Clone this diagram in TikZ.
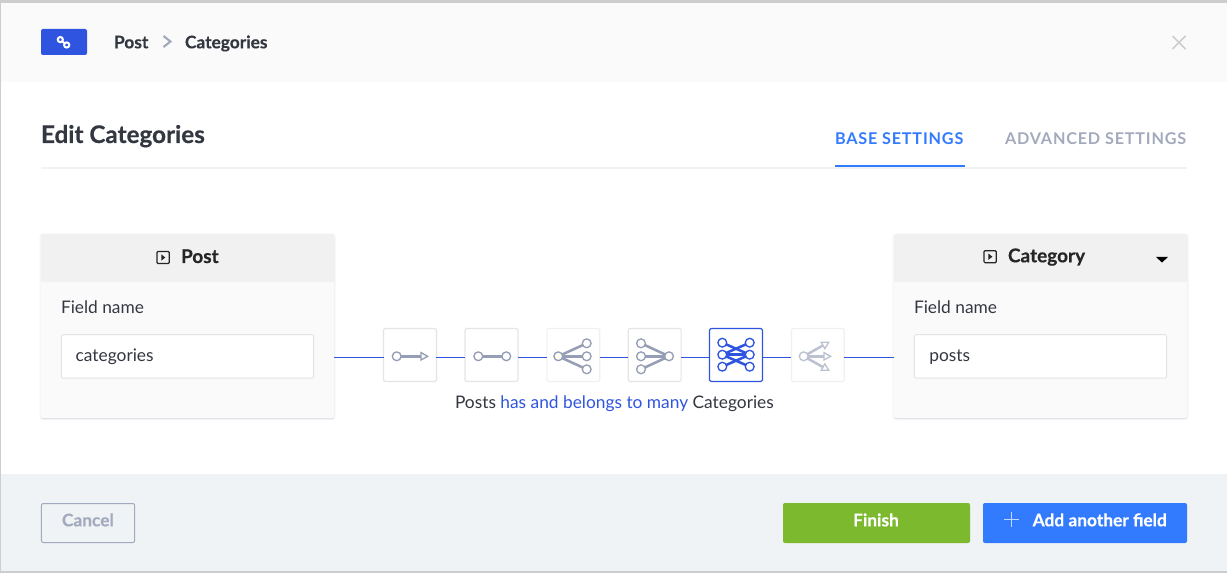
\documentclass[tikz,border=0pt]{standalone}
\usepackage{fontspec}
\setmainfont{Lato}
\usepackage{tikz}
\usetikzlibrary{positioning,arrows.meta}
\definecolor{inkdark}{HTML}{333740}
\definecolor{inkgrey}{HTML}{A3AABD}
\definecolor{linkblue}{HTML}{2F55E0}
\definecolor{tabblue}{HTML}{337BFE}
\definecolor{okgreen}{HTML}{7CB92F}
\definecolor{footgrey}{HTML}{EFF3F6}
\definecolor{headgrey}{HTML}{FAFAFA}
\definecolor{cardhead}{HTML}{F1F1F2}
\definecolor{cardbody}{HTML}{FAFAFB}
\definecolor{framegrey}{HTML}{CDCDCD}
\definecolor{relline}{HTML}{959EB4}
\definecolor{relpale}{HTML}{BCC2D0}
\definecolor{cardglow}{HTML}{F5F6F8}
\definecolor{cardedge}{HTML}{DDE0E8}
\begin{document}
\begin{tikzpicture}[x=0.75pt,y=-0.75pt,
    pane/.style 2 args = {anchor=north west, inner sep=0, outer sep=0, minimum width=#1*0.75pt, minimum height=#2*0.75pt},
    caption/.style = {anchor=base west, inner sep=0, outer sep=0, text=inkdark, font=\fontsize{13}{15}\selectfont},
    strong/.style = {caption, font=\fontsize{13}{15}\selectfont\bfseries\addfontfeature{FakeBold=0.35}},
    tabtext/.style = {caption, font=\fontsize{12.15}{14}\selectfont\bfseries\addfontfeature{LetterSpace=5}},
    relbox/.style = {draw=#1, fill=white, rounded corners=1.5pt, line width=0.9pt, inner sep=0, outer sep=0, minimum size=39.7pt},
    reldot/.style = {draw=#1, fill=none, circle, line width=1pt, inner sep=0, outer sep=0, minimum size=6.6pt},
    reldot/.default = relline,
    relbar/.style = {draw=#1, line width=1.9pt},
    relbar/.default = relline,
    relarrow/.style = {draw=#1, line width=1.9pt, -{Triangle[open,length=6.5pt,width=7pt,line width=1pt]}},
    relarrow/.default = relline]
    % page frame
    \useasboundingbox (0,0) rectangle (1227,573);
    \fill[white] (0,0) rectangle (1227,573);
    \fill[framegrey] (0,0) rectangle (1227,3);
    \fill[framegrey] (0,0) rectangle (1,573);
    \fill[framegrey] (0,571) rectangle (1227,573);
    \node[pane={1226}{79}, fill=headgrey] (top) at (1,3) {};
    \node[pane={1226}{97}, fill=footgrey] (foot) at (1,474) {};
    % header bar
    \node[pane={46}{26}, fill=linkblue, rounded corners=1.5pt] (chip) at (41,29) {};
    \draw[white, line width=1.5pt] (60.3,39.6) circle (2.6) (66.7,45) circle (2.6);
    \draw[white, line width=1.5pt] (62.5,41.5) -- (64.5,43.2);
    \node[strong] (crumbpost) at (114,48.3) {Post};
    \node[strong] (crumbcat) at (185,48.3) {Categories};
    \draw[inkgrey, line width=1.6pt] (163.5,36) -- (170.5,41.5) -- (163.5,47);
    \draw[framegrey, line width=1.1pt] (1172.5,36) -- (1185.5,49) (1185.5,36) -- (1172.5,49);
    % title and tabs
    \node[caption, font=\fontsize{18.2}{22}\selectfont\bfseries\addfontfeature{FakeBold=0.4}] (title) at (41,143) {Edit Categories};
    \node[tabtext, text=tabblue] (tabbase) at (835,145) {BASE SETTINGS};
    \node[tabtext, text=inkgrey] (tabadv) at (1005,145) {ADVANCED SETTINGS};
    \fill[footgrey] (41,167) rectangle (1187,169);
    \fill[tabblue] (835,165) rectangle (965,167);
    % left card
    \fill[cardglow, rounded corners=2pt] (39.5,234) rectangle (335.5,420);
    \fill[cardedge, rounded corners=2pt] (41,236) rectangle (334,419);
    \node[pane={293}{184}, fill=cardbody, rounded corners=1.5pt] (postcard) at (41,234) {};
    \fill[cardhead] (41,282) [rounded corners=1.5pt] -- (41,234) -- (334,234) [sharp corners] -- (334,282) -- cycle;
    \draw[black!85, line width=0.9pt, rounded corners=0.8pt] (157,251.5) rectangle (169.3,263.5);
    \fill[black!85] (161.3,254.3) -- (165.3,257.5) -- (161.3,260.7) -- cycle;
    \node[caption, text=black!85, font=\fontsize{14.25}{17}\selectfont\bfseries\addfontfeature{FakeBold=0.35}] (posttitle) at (181,263) {Post};
    \node[caption] (postfield) at (61,313.7) {Field name};
    \node[pane={252.3}{43.5}, fill=white, draw=black!6!footgrey, line width=0.75pt, rounded corners=1.5pt] (postinput) at (61.4,334.7) {};
    \node[caption] (postvalue) at (75.7,361.3) {categories};
    % right card
    \fill[cardglow, rounded corners=2pt] (892.5,234) rectangle (1188.5,420);
    \fill[cardedge, rounded corners=2pt] (894,236) rectangle (1187,419);
    \node[pane={293}{184}, fill=cardbody, rounded corners=1.5pt] (catcard) at (894,234) {};
    \fill[cardhead] (894,282) [rounded corners=1.5pt] -- (894,234) -- (1187,234) [sharp corners] -- (1187,282) -- cycle;
    \draw[black!85, line width=0.9pt, rounded corners=0.8pt] (984,250.7) rectangle (996.3,262.7);
    \fill[black!85] (988.3,253.5) -- (992.3,256.7) -- (988.3,259.9) -- cycle;
    \node[caption, text=black!85, font=\fontsize{14.25}{17}\selectfont\bfseries\addfontfeature{FakeBold=0.35}] (cattitle) at (1008,262.3) {Category};
    \fill[black] (1156,257) -- (1168,257) -- (1162,262.5) -- cycle;
    \node[caption] (catfield) at (914,313.7) {Field name};
    \node[pane={252.3}{43.5}, fill=white, draw=black!6!footgrey, line width=0.75pt, rounded corners=1.5pt] (catinput) at (914.4,334.7) {};
    \node[caption] (catvalue) at (929.3,361.3) {posts};
    % relation boxes
    \node[relbox=black!10] (rel1) at (410,355) {};
    \node[relbox=black!10, right = 21.4pt of rel1] (rel2) {};
    \node[relbox=blue!7!black!6, right = 21.7pt of rel2] (rel3) {};
    \node[relbox=black!10, right = 21.3pt of rel3] (rel4) {};
    \node[relbox=linkblue, right = 21.3pt of rel4] (rel5) {};
    \node[relbox=blue!7!black!6, right = 21.7pt of rel5] (rel6) {};
    \coordinate (postport) at (334,357);
    \coordinate (catport) at (894,357);
    \draw[linkblue, line width=0.7pt] (postport) -- (postport -| rel1.west);
    \foreach \a/\b in {rel1/rel2, rel2/rel3, rel3/rel4, rel4/rel5, rel5/rel6}
        \draw[linkblue, line width=0.7pt] (postport -| \a.east) -- (postport -| \b.west);
    \draw[linkblue, line width=0.7pt] (postport -| rel6.east) -- (catport);
    % one to one, one way
    \node[reldot] (r1a) at (396.7,356.3) {};
    \coordinate (r1b) at (429,356.3);
    \draw[relarrow] (r1a) -- (r1b);
    % one to one
    \node[reldot] (r2a) at (478.3,356.3) {};
    \node[reldot] (r2b) at (506.3,356.3) {};
    \draw[relbar] (r2a) -- (r2b);
    % one to many
    \node[reldot] (r3a) at (558.3,356.3) {};
    \node[reldot] (r3b) at (586.7,343.3) {};
    \node[reldot] (r3c) at (586.7,356.3) {};
    \node[reldot] (r3d) at (586.7,369.3) {};
    \foreach \t in {r3b, r3c, r3d} \draw[relbar] (r3a) -- (\t);
    % many to one
    \node[reldot] (r4a) at (669,356.3) {};
    \node[reldot] (r4b) at (641,343.3) {};
    \node[reldot] (r4c) at (641,356.3) {};
    \node[reldot] (r4d) at (641,369.3) {};
    \foreach \t in {r4b, r4c, r4d} \draw[relbar] (r4a) -- (\t);
    % many to many
    \node[reldot=linkblue] (r5a) at (722.3,342.7) {};
    \node[reldot=linkblue] (r5b) at (722.3,354.7) {};
    \node[reldot=linkblue] (r5c) at (722.3,366.7) {};
    \node[reldot=linkblue] (r5d) at (749.7,342.7) {};
    \node[reldot=linkblue] (r5e) at (749.7,354.7) {};
    \node[reldot=linkblue] (r5f) at (749.7,366.7) {};
    \foreach \s/\t in {r5a/r5e, r5c/r5e, r5b/r5d, r5b/r5f, r5b/r5e}
        \draw[relbar=linkblue] (\s) -- (\t);
    % many way
    \node[reldot=relpale] (r6a) at (803.7,356.3) {};
    \coordinate (r6b) at (830,341.5);
    \coordinate (r6c) at (832,356.3);
    \coordinate (r6d) at (830,371);
    \foreach \t in {r6b, r6c, r6d} \draw[relarrow=relpale] (r6a) -- (\t);
    % sentence under the boxes
    \node[caption] (sentence) at (455,408) {Posts \textcolor{linkblue}{has and belongs to many} Categories};
    % footer buttons
    \node[pane={93.3}{39}, draw=inkgrey, line width=0.75pt, rounded corners=1.5pt] (cancel) at (41.4,503.5) {};
    \node[strong, text=inkgrey] (canceltext) at (62,526.3) {Cancel};
    \node[pane={187}{40}, fill=okgreen, rounded corners=1.5pt] (finish) at (783,503) {};
    \node[strong, anchor=base, text=white] (finishtext) at (876,526.3) {Finish};
    \node[pane={204}{40}, fill=tabblue, rounded corners=1.5pt] (addfield) at (983,503) {};
    \node[strong, text=white] (addtext) at (1032.7,526.3) {Add another field};
    \draw[white!70!tabblue, line width=0.8pt] (1004,519.7) -- (1019,519.7) (1011.5,512.2) -- (1011.5,527.2);
\end{tikzpicture}
\end{document}
